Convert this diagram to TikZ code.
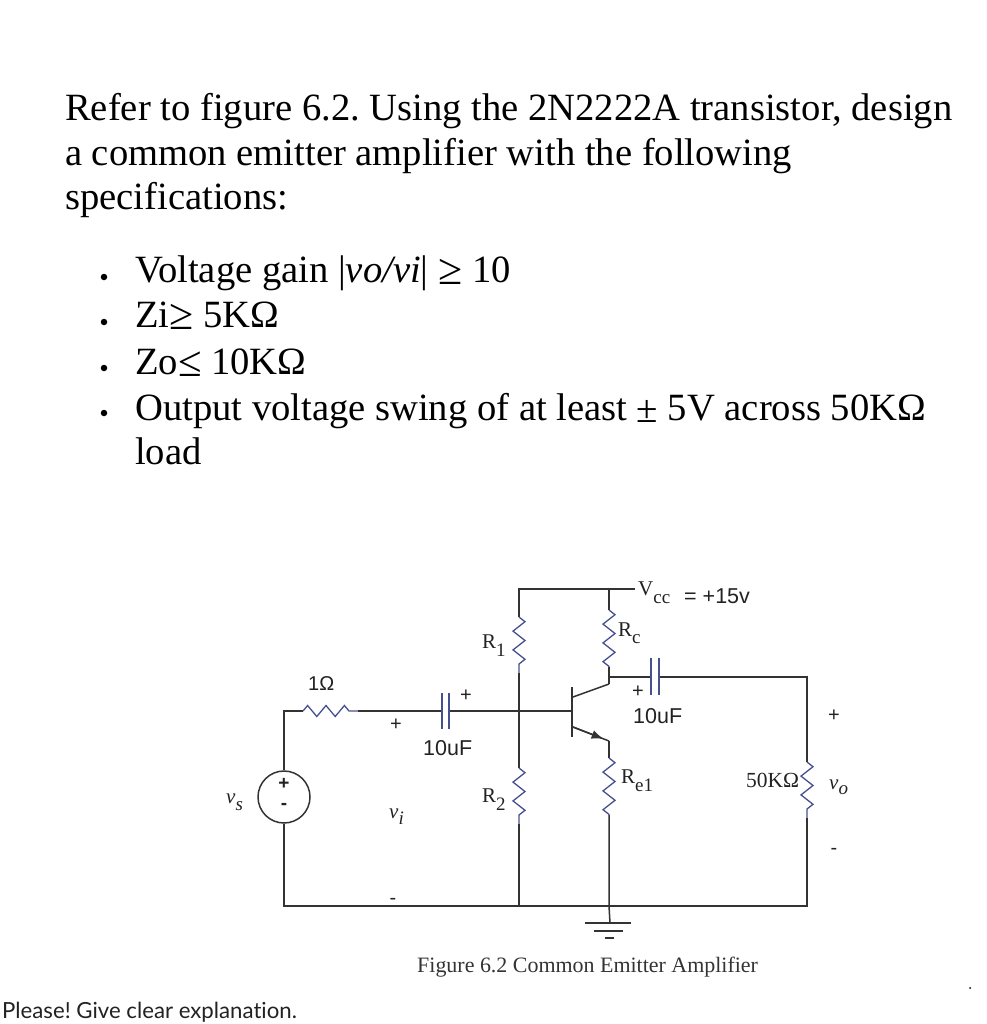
\documentclass[tikz,border=0pt]{standalone}
\usepackage{fontspec}
\setmainfont{Liberation Serif}
\newfontfamily\arialf{Liberation Sans}
\newfontfamily\latof[Ligatures=CommonOff]{Lato}
\usetikzlibrary{decorations.pathmorphing,arrows.meta,calc}
\definecolor{wirec}{HTML}{333333}
\definecolor{resc}{HTML}{46508F}
\definecolor{textc}{HTML}{222222}
\newcommand{\bigrel}[2][44]{\raisebox{-2.5pt}{\fontsize{#1}{#1}\selectfont #2}}
\newcommand{\subt}[2][-7pt]{\raisebox{#1}{\fontsize{19}{19}\selectfont #2}}
\frenchspacing
\tikzset{
 wire/.style={draw=wirec,line width=1.5pt},
 resv/.style={draw=resc,line width=1.3pt,decorate,decoration={zigzag,amplitude=6pt,segment length=18.8pt}},
 resh/.style={draw=resc,line width=1.3pt,decorate,decoration={zigzag,amplitude=5.5pt,segment length=18.4pt}},
 plate/.style={draw=resc,line width=1.4pt},
 body/.style={anchor=base west,inner sep=0pt,text=black,font=\fontsize{38.6}{38.6}\selectfont},
 lab/.style={anchor=base west,inner sep=0pt,text=textc,font=\fontsize{21}{21}\selectfont},
 sans/.style={anchor=base west,inner sep=0pt,text=textc,font=\arialf\fontsize{21.5}{21.5}\selectfont},
 sign/.style={anchor=center,inner sep=0pt,text=textc,font=\arialf\fontsize{20}{20}\selectfont},
 bull/.style={circle,fill=black,inner sep=0pt,minimum size=6.5pt},
}
\begin{document}
\begin{tikzpicture}[x=1pt,y=-1pt]
\useasboundingbox (0,0) rectangle (986,1024);
% text
\node[body] (t1) at (65,121) {Refer to figure 6.2. Using the 2N2222A transistor, design};
\node[body] (t2) at (65,166) {a common emitter amplifier with the following};
\node[body] (t3) at (65,210) {specifications:};
\node[bull] (b1) at (104,277) {};
\node[bull] (b2) at (104,322) {};
\node[bull] (b3) at (104,368) {};
\node[bull] (b4) at (104,413) {};
\node[body] (l1) at (135,282) {Voltage gain |\textit{vo/vi}| \bigrel{≥} 10};
\node[body] (l2) at (135,327) {Zi\bigrel{≥} 5KΩ};
\node[body] (l3) at (135,374) {Zo\bigrel[43]{≤} 10KΩ};
\node[body] (l4) at (135,420) {Output voltage swing of at least \bigrel[39]{±} 5V across 50KΩ};
\node[body] (l5) at (135,464) {load};
% coordinates
\coordinate (cornerTL) at (284,711);
\coordinate (r1sa) at (303,711);
\coordinate (r1sb) at (358,711);
\coordinate (c1a) at (442,711);
\coordinate (c1b) at (449,711);
\coordinate (jb) at (519,711);
\coordinate (topL) at (519,589);
\coordinate (r1a) at (519,617);
\coordinate (r1b) at (519,673);
\coordinate (r2a) at (519,768);
\coordinate (r2b) at (519,824);
\coordinate (jg2) at (519,906);
\coordinate (jv) at (609,589);
\coordinate (vend) at (635,589);
\coordinate (rca) at (609,610);
\coordinate (rcb) at (609,667);
\coordinate (jc) at (609,677);
\coordinate (cc) at (609,684);
\coordinate (bar) at (572,711);
\coordinate (bart) at (572,687);
\coordinate (barb) at (572,737);
\coordinate (bc) at (573,697);
\coordinate (be) at (573,727);
\coordinate (ee) at (609,741);
\coordinate (rea) at (609,758);
\coordinate (reb) at (609,815);
\coordinate (jg) at (609,906);
\coordinate (c2a) at (651,677);
\coordinate (c2b) at (659,677);
\coordinate (outc) at (807,677);
\coordinate (rla) at (807,762);
\coordinate (rlb) at (807,818);
\coordinate (botR) at (807,906);
\coordinate (botL) at (284,906);
\coordinate (gnd) at (610,923);
% source
\node[circle,draw=wirec,line width=1.5pt,minimum size=52pt,inner sep=0pt] (src) at (284,797) {};
\node[inner sep=0pt,font=\arialf\bfseries\fontsize{19}{19}\selectfont,text=textc] (sp) at (284,784) {+};
\node[inner sep=0pt,font=\arialf\bfseries\fontsize{19}{19}\selectfont,text=textc] (sm) at (284,806) {-};
% wires
\draw[wire] (src.north) -- (cornerTL) -- (r1sa);
\draw[wire] (r1sb) -- (c1a);
\draw[wire] (c1b) -- (jb) -- (bar);
\draw[wire] (r1a) -- (topL) -- (vend);
\draw[wire] (r1b) -- (jb) -- (r2a);
\draw[wire] (r2b) -- (jg2);
\draw[wire] (jv) -- (rca);
\draw[wire] (rcb) -- (cc);
\draw[wire] (jc) -- (c2a);
\draw[wire] (c2b) -- (outc) -- (rla);
\draw[wire] (rlb) -- (botR) -- (botL) -- (src.south);
\draw[wire] (ee) -- (rea);
\draw[wire] (reb) -- (jg) -- (gnd);
% transistor
\draw[wire] (bart) -- (barb);
\draw[wire] (bc) -- (cc);
\draw[wire,-{Latex[length=12pt,width=9pt]}] (be) -- ($(be)!0.85!(ee)$);
\draw[wire] (be) -- (ee);
% resistors
\draw[resh] (r1sa) -- (r1sb);
\draw[resv] (r1a) -- (r1b);
\draw[resv] (r2a) -- (r2b);
\draw[resv] (rca) -- (rcb);
\draw[resv] (rea) -- (reb);
\draw[resv] (rla) -- (rlb);
% capacitors
\draw[plate] (442,693) -- (442,729);
\draw[plate] (449,693) -- (449,729);
\draw[plate] (651,658) -- (651,695);
\draw[plate] (659,658) -- (659,695);
% ground
\draw[wire] (585,923) -- (631,923);
\draw[wire] (594,931) -- (623,931);
\draw[wire] (605,938) -- (614,938);
% labels
\node[sans,font=\arialf\fontsize{20}{20}\selectfont] (one) at (308,690) {1Ω};
\node[sign] (pa) at (396,725) {+};
\node[sign] (pb) at (466,696) {+};
\node[sans] (cv1) at (423,755) {10uF};
\node[lab] (R1) at (482,648) {R\subt[-8pt]{1}};
\node[lab] (R2) at (482,802) {R\subt[-8pt]{2}};
\node[lab] (Rc) at (618,636) {R\subt{c}};
\node[lab] (Re) at (621,783) {R\subt[-8pt]{e1}};
\node[lab] (V) at (638,595) {V\subt[-8pt]{cc}};
\node[sans] (vv) at (684,603) {= +15v};
\node[sign] (pc) at (638,692) {+};
\node[sans] (cv2) at (633,723) {10uF};
\node[lab,font=\fontsize{21.5}{21.5}\selectfont] (load) at (746,787) {50KΩ};
\node[sign] (pd) at (834,716) {+};
\node[sign] (md) at (834,851) {-};
\node[lab] (vo) at (829,789) {\textit{v}\subt[-5pt]{\textit{o}}};
\node[lab] (vi) at (389,818) {\textit{v}\subt[-6pt]{\textit{i}}};
\node[lab] (vs) at (226,803) {\textit{v}\subt[-7pt]{\textit{s}}};
\node[sign] (mi) at (393,901) {-};
\node[lab,font=\fontsize{21.95}{21.95}\selectfont,text=wirec] (cap) at (417,972) {Figure 6.2 Common Emitter Amplifier};
\node[anchor=base west,inner sep=0pt,font=\latof\fontsize{22.2}{22.2}\selectfont,text=textc] (pl) at (2,1018) {Please! Give clear explanation.};
\node[circle,fill=black,inner sep=0pt,minimum size=2pt] (speck) at (970,988) {};
\end{tikzpicture}
\end{document}
